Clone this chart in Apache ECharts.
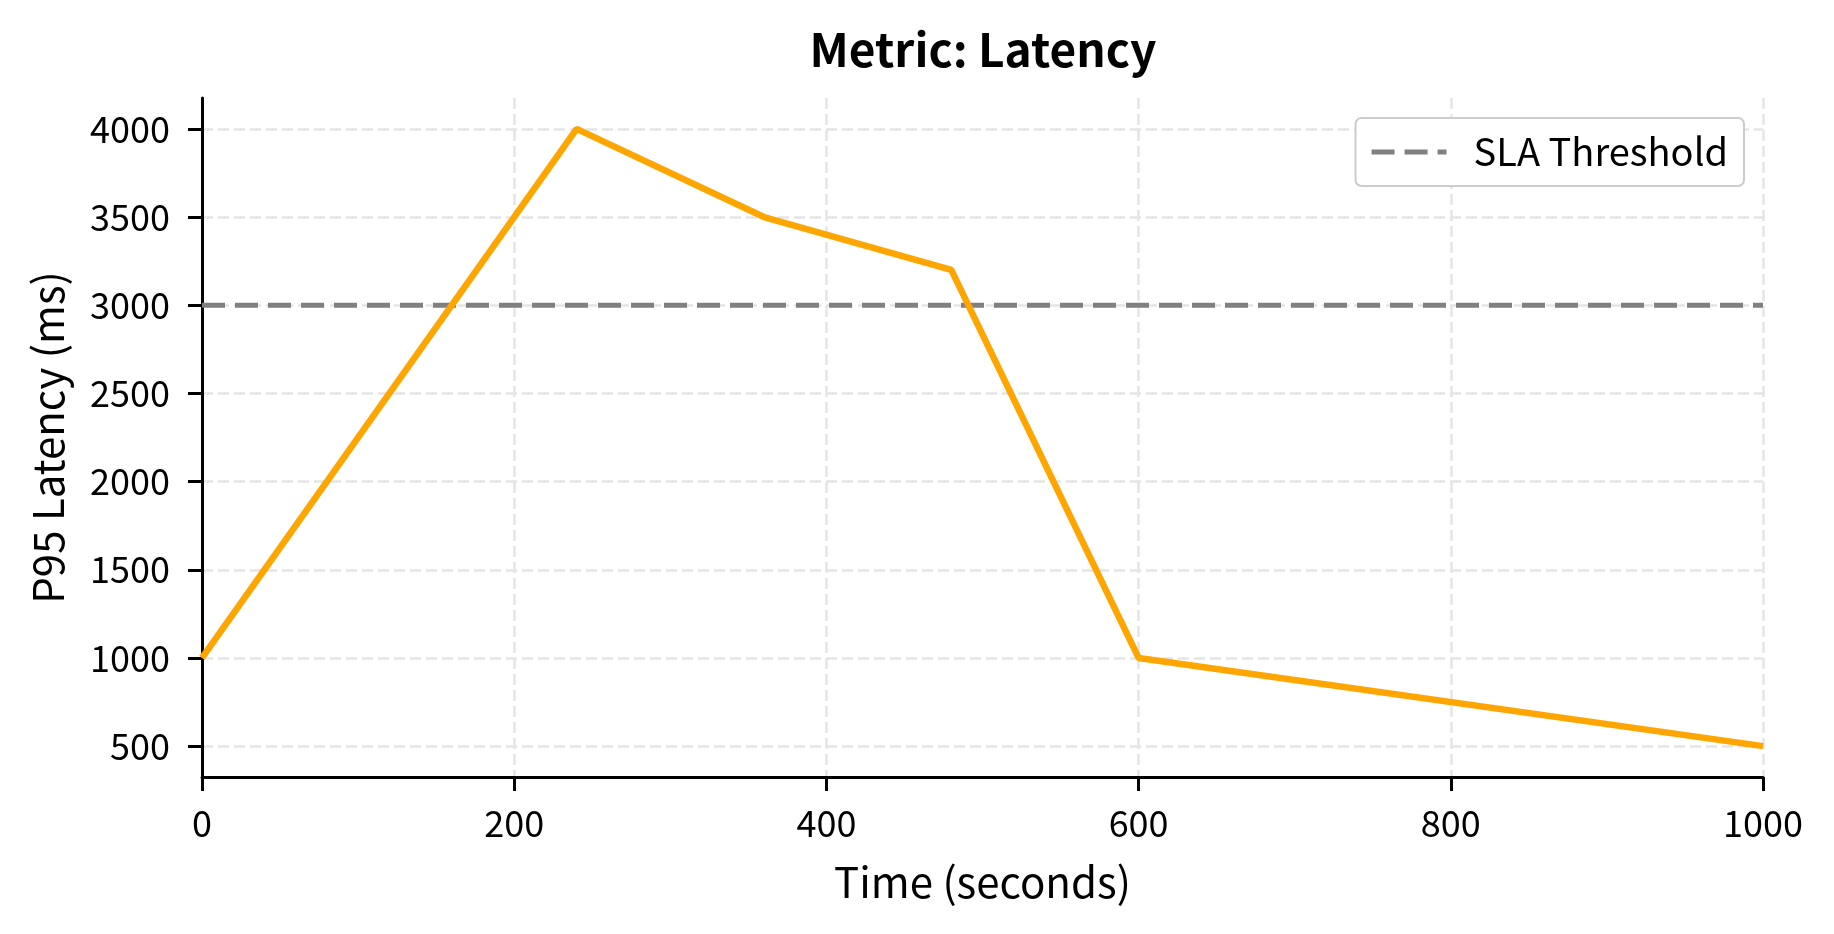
<!DOCTYPE html>
<html><head><meta charset="utf-8">
<script src="https://cdn.jsdelivr.net/npm/echarts@6/dist/echarts.min.js"></script>
<style>html,body{margin:0;padding:0;background:#fff}#c{width:1834px;height:934px}</style>
</head><body><div id="c"></div>
<script>
const timeSec = [0, 240, 360, 480, 600, 1000];
const latencyMs = [1000, 4000, 3500, 3200, 1000, 500];
const slaThreshold = 3000;
const xTicks = [0, 200, 400, 600, 800, 1000];
const yTicks = [500, 1000, 1500, 2000, 2500, 3000, 3500, 4000];

const FONT = '"Noto Sans CJK SC", "Source Sans Pro", sans-serif';
const DASH_ICON = 'path://M0,0h23v5h-23z M33,0h23v5h-23z M66,0h9v5h-9z';
const chart = echarts.init(document.getElementById('c'), null, {renderer: 'canvas'});
chart.setOption({
  backgroundColor: '#ffffff',
  animation: false,
  title: {
    text: 'Metric: Latency', left: 978, top: 22, textAlign: 'center',
    textStyle: {fontFamily: FONT, fontSize: 46, fontWeight: 'bold', color: '#000'}
  },
  legend: {
    data: [{name: 'SLA Threshold', icon: DASH_ICON}], right: 90, top: 118,
    padding: [15, 16, 15, 16], itemWidth: 75, itemHeight: 5, itemGap: 10,
    borderColor: '#cccccc', borderWidth: 2, borderRadius: 6, backgroundColor: '#ffffff',
    textStyle: {fontFamily: FONT, fontSize: 38, color: '#000', padding: [0,0,0,22]}
  },
  grid: {left: 202, right: 71, top: 98, bottom: 157, containLabel: false},
  xAxis: {
    type: 'value', min: 0, max: 1000, interval: 200,
    name: 'Time (seconds)', nameLocation: 'middle', nameGap: 84,
    nameTextStyle: {fontFamily: FONT, fontSize: 42, color: '#000'},
    axisLine: {show: true, lineStyle: {color: '#000', width: 3}},
    axisTick: {show: true, length: 14, lineStyle: {color: '#000', width: 3}, customValues: xTicks},
    axisLabel: {fontFamily: FONT, fontSize: 36, color: '#000', margin: 28, customValues: xTicks,
      formatter: v => String(v)},
    splitLine: {show: true, lineStyle: {color: '#e5e5e5', width: 2.5, type: [11, 5]}}
  },
  yAxis: {
    type: 'value', min: 325, max: 4175,
    name: 'P95 Latency (ms)', nameLocation: 'middle', nameGap: 133, nameRotate: 90,
    nameTextStyle: {fontFamily: FONT, fontSize: 42, color: '#000'},
    axisLine: {show: true, lineStyle: {color: '#000', width: 3}},
    axisTick: {show: true, length: 14, lineStyle: {color: '#000', width: 3}, customValues: yTicks},
    axisLabel: {fontFamily: FONT, fontSize: 36, color: '#000', margin: 32, customValues: yTicks,
      formatter: v => String(v)},
    splitLine: {show: true, lineStyle: {color: '#e5e5e5', width: 2.5, type: [11, 5]}}
  },
  series: [
    {
      name: 'SLA Threshold', type: 'line', symbol: 'none', z: 3,
      data: [[xTicks[0], slaThreshold], [xTicks[xTicks.length - 1], slaThreshold]],
      lineStyle: {color: '#808080', width: 5, type: [23, 10]}, itemStyle: {color: '#808080'}
    },
    {
      name: 'Latency', type: 'line', symbol: 'none', z: 4,
      data: timeSec.map((t, i) => [t, latencyMs[i]]),
      lineStyle: {color: '#FFA500', width: 6.5}, itemStyle: {color: '#FFA500'}
    }
  ]
});
</script></body></html>
